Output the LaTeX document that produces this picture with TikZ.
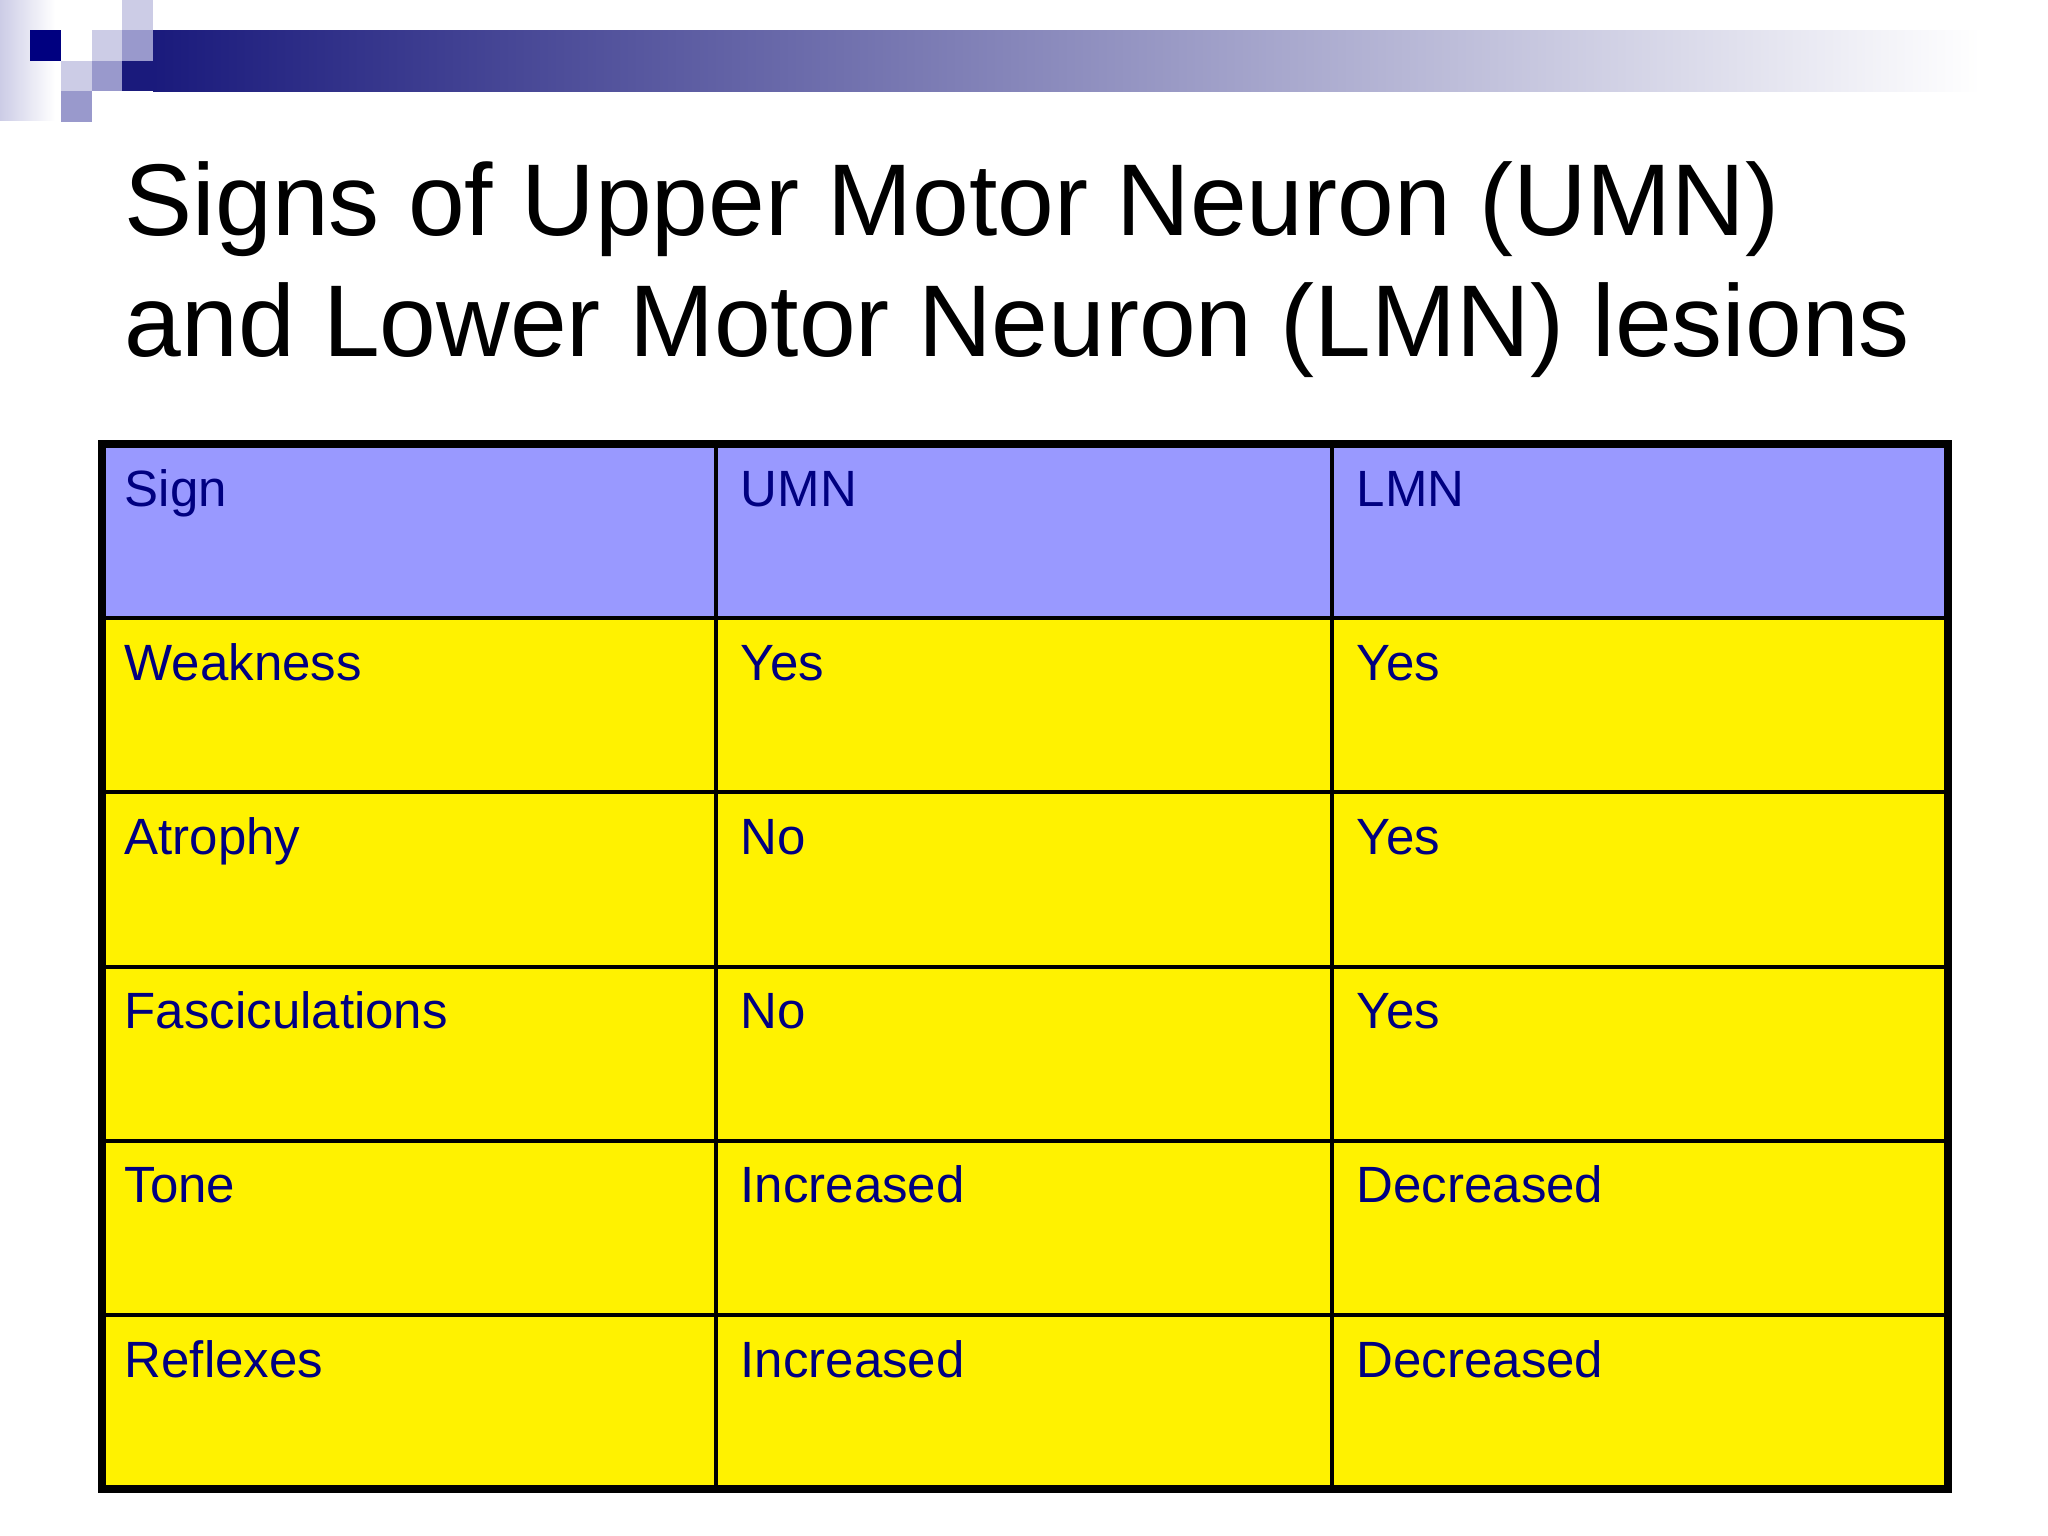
\documentclass[tikz,border=0pt]{standalone}
\usepackage{fontspec}
\setmainfont{Liberation Sans}
\usetikzlibrary{positioning}
\definecolor{navy}{HTML}{000080}
\definecolor{barblue}{HTML}{1A1A7C}
\definecolor{lightsq}{HTML}{CCCCE6}
\definecolor{midsq}{HTML}{9999CC}
\definecolor{headfill}{HTML}{9999FF}
\begin{document}
\begin{tikzpicture}[x=0.01cm,y=-0.01cm,
    cell/.style={anchor=base west,text=navy,font=\fontsize{14.5}{17}\selectfont,inner sep=0pt},
    title/.style={anchor=base west,font=\fontsize{29}{32}\selectfont,inner sep=0pt}]
  \useasboundingbox[fill=white] (0,0) rectangle (2048,1536);
  % logo squares and bar
  \shade[left color=lightsq,right color=white] (0,0) rectangle (55,120);
  \shade[left color=barblue,right color=white] (153,30) rectangle (1980,91);
  \fill[barblue] (122,61) rectangle (153,91);
  \fill[navy] (30,30) rectangle (61,61);
  \fill[lightsq] (92,30) rectangle (122,61);
  \fill[lightsq] (122,0) rectangle (153,30);
  \fill[midsq] (122,30) rectangle (153,61);
  \fill[lightsq] (61,61) rectangle (92,91);
  \fill[midsq] (92,61) rectangle (122,91);
  \fill[midsq] (61,91) rectangle (92,122);
  % title
  \node[title] (t1) at (124,235) {Signs of Upper Motor Neuron (UMN)};
  \node[title] (t2) at (124,356) {and Lower Motor Neuron (LMN) lesions};
  % table
  \fill[headfill] (102,444) rectangle (1948,618);
  \fill[yellow] (102,618) rectangle (1948,1489);
  \foreach \y in {618,792,967,1141,1315}
    \draw[line width=1.2pt] (102,\y) -- (1948,\y);
  \foreach \x in {716,1332}
    \draw[line width=1.2pt] (\x,444) -- (\x,1489);
  \draw[line width=2.4pt] (102,444) rectangle (1948,1489);
  \foreach \a/\b/\c [count=\i from 0] in {Sign/UMN/LMN,Weakness/Yes/Yes,Atrophy/No/Yes,
      Fasciculations/No/Yes,Tone/Increased/Decreased,Reflexes/Increased/Decreased}{
    \pgfmathsetmacro\yy{506+174.2*\i}
    \node[cell] (r\i a) at (124,\yy) {\a};
    \node[cell] (r\i b) at (740,\yy) {\b};
    \node[cell] (r\i c) at (1356,\yy) {\c};
  }
\end{tikzpicture}
\end{document}
